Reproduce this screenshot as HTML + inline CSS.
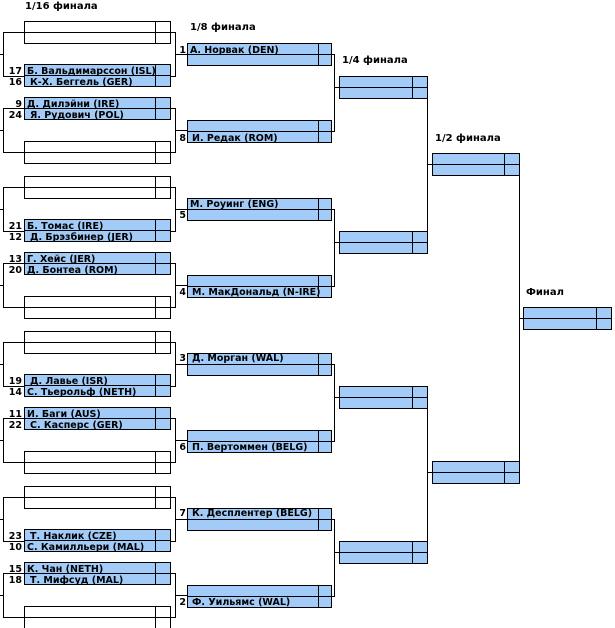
<!DOCTYPE html>
<html><head><meta charset="utf-8"><style>
html,body{margin:0;padding:0;background:#fff;}
svg{display:block;}
text{font-family:"DejaVu Sans","Liberation Sans",sans-serif;font-weight:bold;font-size:9.5px;fill:#000;}
.h{font-size:10px;}
.bx{fill:#a3cbf7;stroke:#000;stroke-width:1;}
.wb{fill:#fff;stroke:#000;stroke-width:1;}
.ln{stroke:#000;stroke-width:1;fill:none;}
.s{text-anchor:end;}
</style></head><body>
<svg width="615" height="628" viewBox="0 0 615 628" xmlns="http://www.w3.org/2000/svg">
<defs>
<g id="br">
 <rect class="ln" x="3.5" y="32.5" width="172" height="44"/>
 <rect class="ln" x="3.5" y="108.5" width="172" height="44"/>
 <path class="ln" d="M0,54.5H3.5M175.5,54.5H187.5M0,130.5H3.5M175.5,130.5H187.5M331.5,54.5H334.5V131.5H331.5M334.5,87.5H339.5"/>
 <rect class="wb" x="24.5" y="21.5" width="146" height="22"/><path class="ln" d="M24.5,32.5H170.5M155.5,21.5V43.5"/>
 <rect class="bx" x="24.5" y="64.5" width="146" height="22"/><path class="ln" d="M24.5,75.5H170.5M155.5,64.5V86.5"/>
 <rect class="bx" x="24.5" y="97.5" width="146" height="22"/><path class="ln" d="M24.5,108.5H170.5M155.5,97.5V119.5"/>
 <rect class="wb" x="24.5" y="141.5" width="146" height="22"/><path class="ln" d="M24.5,152.5H170.5M155.5,141.5V163.5"/>
 <rect class="bx" x="187.5" y="43.5" width="144" height="22"/><path class="ln" d="M187.5,54.5H331.5M318.5,43.5V65.5"/>
 <rect class="bx" x="187.5" y="120.5" width="144" height="22"/><path class="ln" d="M187.5,131.5H331.5M318.5,120.5V142.5"/>
 <rect class="bx" x="339.5" y="76.5" width="88" height="22"/><path class="ln" d="M339.5,87.5H427.5M412.5,76.5V98.5"/>
</g>
</defs>
<text class="h" x="25" y="9">1/16 финала</text>
<text class="h" x="190" y="30">1/8 финала</text>
<text class="h" x="342" y="63">1/4 финала</text>
<text class="h" x="435" y="141">1/2 финала</text>
<text class="h" x="526" y="295">Финал</text>

<path class="ln" d="M427.5,87.5V242.5M427.5,164.5H432.5M427.5,396.5V551.5M427.5,472.5H432.5M519.5,164.5V472.5M519.5,318.5H523.5"/>

<use href="#br"/>
<use href="#br" y="155"/>
<use href="#br" y="310"/>
<use href="#br" y="465"/>

<rect class="bx" x="432.5" y="153.5" width="87" height="22"/><path class="ln" d="M432.5,164.5H519.5M504.5,153.5V175.5"/>
<rect class="bx" x="432.5" y="461.5" width="87" height="22"/><path class="ln" d="M432.5,472.5H519.5M504.5,461.5V483.5"/>
<rect class="bx" x="523.5" y="307.5" width="88" height="22"/><path class="ln" d="M523.5,318.5H611.5M596.5,307.5V329.5"/>

<text class="s" x="22" y="74">17</text><text x="27" y="74">Б. Вальдимарссон (ISL)</text>
<text class="s" x="22" y="85">16</text><text x="30" y="85">К-Х. Беггель (GER)</text>
<text class="s" x="22" y="107">9</text><text x="27" y="107">Д. Дилэйни (IRE)</text>
<text class="s" x="22" y="118">24</text><text x="30" y="118">Я. Рудович (POL)</text>
<text class="s" x="186" y="53">1</text><text x="190" y="53">А. Норвак (DEN)</text>
<text class="s" x="186" y="141">8</text><text x="192" y="141">И. Редак (ROM)</text>

<text class="s" x="22" y="229">21</text><text x="27" y="229">Б. Томас (IRE)</text>
<text class="s" x="22" y="240">12</text><text x="30" y="240">Д. Брэзбинер (JER)</text>
<text class="s" x="22" y="262">13</text><text x="27" y="262">Г. Хейс (JER)</text>
<text class="s" x="22" y="273">20</text><text x="27" y="273">Д. Бонтеа (ROM)</text>
<text x="190" y="207">М. Роуинг (ENG)</text><text class="s" x="186" y="218">5</text>
<text class="s" x="186" y="295">4</text><text x="192" y="295">М. МакДональд (N-IRE)</text>

<text class="s" x="22" y="384">19</text><text x="30" y="384">Д. Лавье (ISR)</text>
<text class="s" x="22" y="395">14</text><text x="27" y="395">С. Тьерольф (NETH)</text>
<text class="s" x="22" y="417">11</text><text x="27" y="417">И. Баги (AUS)</text>
<text class="s" x="22" y="428">22</text><text x="30" y="428">С. Касперс (GER)</text>
<text class="s" x="186" y="361">3</text><text x="192" y="361">Д. Морган (WAL)</text>
<text class="s" x="186" y="450">6</text><text x="192" y="450">П. Вертоммен (BELG)</text>

<text class="s" x="22" y="539">23</text><text x="30" y="539">Т. Наклик (CZE)</text>
<text class="s" x="22" y="550">10</text><text x="27" y="550">С. Камилльери (MAL)</text>
<text class="s" x="22" y="572">15</text><text x="27" y="572">К. Чан (NETH)</text>
<text class="s" x="22" y="583">18</text><text x="30" y="583">Т. Мифсуд (MAL)</text>
<text class="s" x="186" y="516">7</text><text x="192" y="516">К. Десплентер (BELG)</text>
<text class="s" x="186" y="605">2</text><text x="192" y="605">Ф. Уильямс (WAL)</text>
</svg>
</body></html>
